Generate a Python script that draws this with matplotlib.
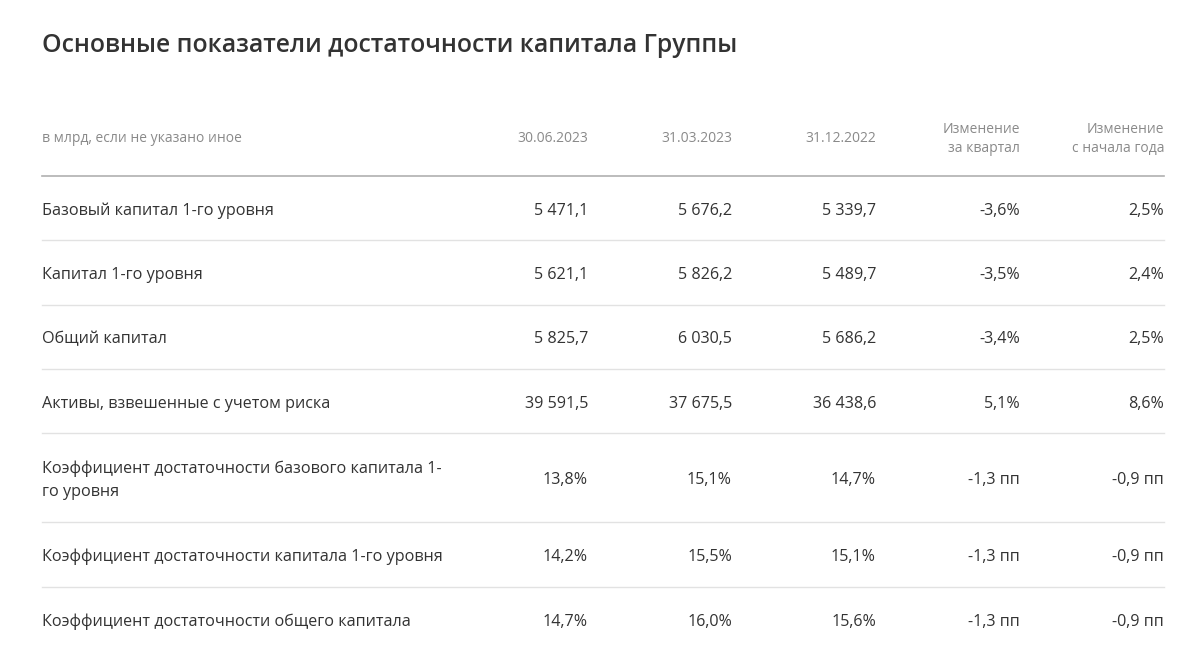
import matplotlib.pyplot as plt

title = "Основные показатели достаточности капитала Группы"
unit_label = "в млрд, если не указано иное"
col_headers = ["30.06.2023", "31.03.2023", "31.12.2022", "Изменение\nза квартал", "Изменение\nс начала года"]
row_labels = [
    "Базовый капитал 1-го уровня",
    "Капитал 1-го уровня",
    "Общий капитал",
    "Активы, взвешенные с учетом риска",
    "Коэффициент достаточности базового капитала 1-\nго уровня",
    "Коэффициент достаточности капитала 1-го уровня",
    "Коэффициент достаточности общего капитала",
]
values = [
    ["5 471,1", "5 676,2", "5 339,7", "-3,6%", "2,5%"],
    ["5 621,1", "5 826,2", "5 489,7", "-3,5%", "2,4%"],
    ["5 825,7", "6 030,5", "5 686,2", "-3,4%", "2,5%"],
    ["39 591,5", "37 675,5", "36 438,6", "5,1%", "8,6%"],
    ["13,8%", "15,1%", "14,7%", "-1,3 пп", "-0,9 пп"],
    ["14,2%", "15,5%", "15,1%", "-1,3 пп", "-0,9 пп"],
    ["14,7%", "16,0%", "15,6%", "-1,3 пп", "-0,9 пп"],
]

# layout in pixels
col_right = [588, 732, 876, 1020, 1164]
row_centers = [211, 275, 339, 404, 480, 557, 622]
row_lines = [240, 305, 369, 433, 522, 587]
font = "Open Sans"
dark = "#333333"
gray = "#8a8a8a"

fig = plt.figure(figsize=(12, 6.49), dpi=100)
ax = fig.add_axes([0, 0, 1, 1])
ax.set_xlim(0, 1200)
ax.set_ylim(649, 0)
ax.axis("off")

ax.text(42, 46, title, fontsize=17.8, fontweight="semibold", color=dark,
        family=font, va="center", ha="left")

ax.text(42, 139, unit_label, fontsize=10, color=gray, family=font, va="center")
for x, h in zip(col_right, col_headers):
    ax.text(x, 139, h, fontsize=10, color=gray, family=font, va="center",
            ha="right", multialignment="right", linespacing=1.4)

ax.plot([42, 1164], [176, 176], color="#b0b0b0", lw=1.2)
for y in row_lines:
    ax.plot([42, 1164], [y, y], color="#e2e2e2", lw=1)

for y, lab, vals in zip(row_centers, row_labels, values):
    ax.text(42, y, lab, fontsize=11.6, color=dark, family=font, va="center",
            linespacing=1.6)
    for x, v in zip(col_right, vals):
        ax.text(x, y, v, fontsize=11.6, color=dark, family=font, va="center", ha="right")

fig.savefig("out.png", dpi=100, facecolor="white")
